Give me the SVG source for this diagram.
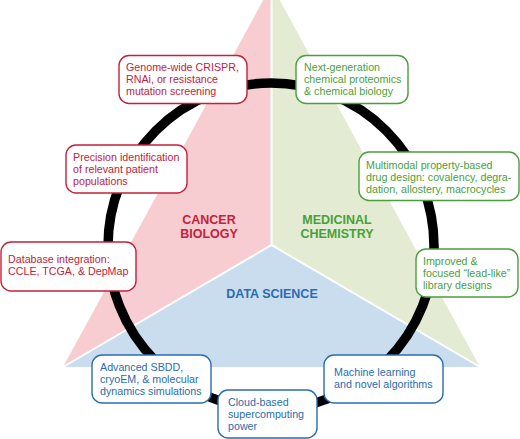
<svg xmlns="http://www.w3.org/2000/svg" width="520" height="439" viewBox="0 0 520 439">
<style>
text{font-family:"Liberation Sans",Arial,sans-serif;font-size:10.7px}
.lbl{font-size:12.5px;font-weight:bold;text-anchor:middle}
.box{fill:#fff;stroke-width:1.4}
.r text,.r.lbl{fill:#c4213b}
.g text,.g.lbl{fill:#4a9f3a}
.b text,.b.lbl{fill:#2b6cb0}
.r rect{stroke:#c4213b}
.g rect{stroke:#4a9f3a}
.b rect{stroke:#2b6cb0}
.sep{stroke:#fff;stroke-width:2;fill:none}
</style>
<rect width="520" height="439" fill="#fff"/>
<g id="background">
<polygon points="271.5,-15 271.5,245 63,367" fill="#f7cdd2"/>
<polygon points="271.5,-15 480,367 271.5,245" fill="#e3ecd2"/>
<polygon points="271.5,245 63,367 480,367" fill="#c9ddee"/>
<path class="sep" d="M271.5,-15 L271.5,245 M63,367 L271.5,245 L480,367"/>
<text class="lbl r" x="209" y="224">CANCER</text>
<text class="lbl r" x="209" y="238">BIOLOGY</text>
<text class="lbl g" x="337" y="224">MEDICINAL</text>
<text class="lbl g" x="337" y="238">CHEMISTRY</text>
<text class="lbl b" x="272" y="298">DATA SCIENCE</text>
</g>
<g id="connectors">
<circle cx="271" cy="246" r="163" fill="none" stroke="#000" stroke-width="9.5"/>
</g>
<g id="n1" class="r"><rect class="box" x="119" y="55.5" width="128" height="48" rx="10"/><text x="126"><tspan x="126" y="71">Genome-wide CRISPR,</tspan><tspan x="126" y="83">RNAi, or resistance</tspan><tspan x="126" y="95">mutation screening</tspan></text></g>
<g id="n2" class="r"><rect class="box" x="66" y="145" width="121" height="48" rx="10"/><text x="73"><tspan x="73" y="161">Precision identification</tspan><tspan x="73" y="173">of relevant patient</tspan><tspan x="73" y="185">populations</tspan></text></g>
<g id="n3" class="r"><rect class="box" x="1" y="242" width="135" height="49" rx="10"/><text x="8"><tspan x="8" y="263">Database integration:</tspan><tspan x="8" y="275">CCLE, TCGA, &amp; DepMap</tspan></text></g>
<g id="n4" class="g"><rect class="box" x="296" y="55.5" width="112" height="48" rx="10"/><text x="304"><tspan x="304" y="71">Next-generation</tspan><tspan x="304" y="83">chemical proteomics</tspan><tspan x="304" y="95">&amp; chemical biology</tspan></text></g>
<g id="n5" class="g"><rect class="box" x="359" y="152" width="160" height="48.5" rx="10"/><text x="366"><tspan x="366" y="169">Multimodal property-based</tspan><tspan x="366" y="181">drug design: covalency, degra-</tspan><tspan x="366" y="193">dation, allostery, macrocycles</tspan></text></g>
<g id="n6" class="g"><rect class="box" x="416" y="249" width="102" height="48" rx="10"/><text x="423"><tspan x="423" y="265">Improved &amp;</tspan><tspan x="423" y="277">focused “lead-like”</tspan><tspan x="423" y="289">library designs</tspan></text></g>
<g id="n7" class="b"><rect class="box" x="92" y="355" width="119" height="48" rx="10"/><text x="100"><tspan x="100" y="371">Advanced SBDD,</tspan><tspan x="100" y="383">cryoEM, &amp; molecular</tspan><tspan x="100" y="395">dynamics simulations</tspan></text></g>
<g id="n8" class="b"><rect class="box" x="218" y="390" width="99" height="48" rx="10"/><text x="228"><tspan x="228" y="406">Cloud-based</tspan><tspan x="228" y="418">supercomputing</tspan><tspan x="228" y="430">power</tspan></text></g>
<g id="n9" class="b"><rect class="box" x="324" y="355" width="119" height="48" rx="10"/><text x="334"><tspan x="334" y="375.5">Machine learning</tspan><tspan x="334" y="387.5">and novel algorithms</tspan></text></g>
</svg>
